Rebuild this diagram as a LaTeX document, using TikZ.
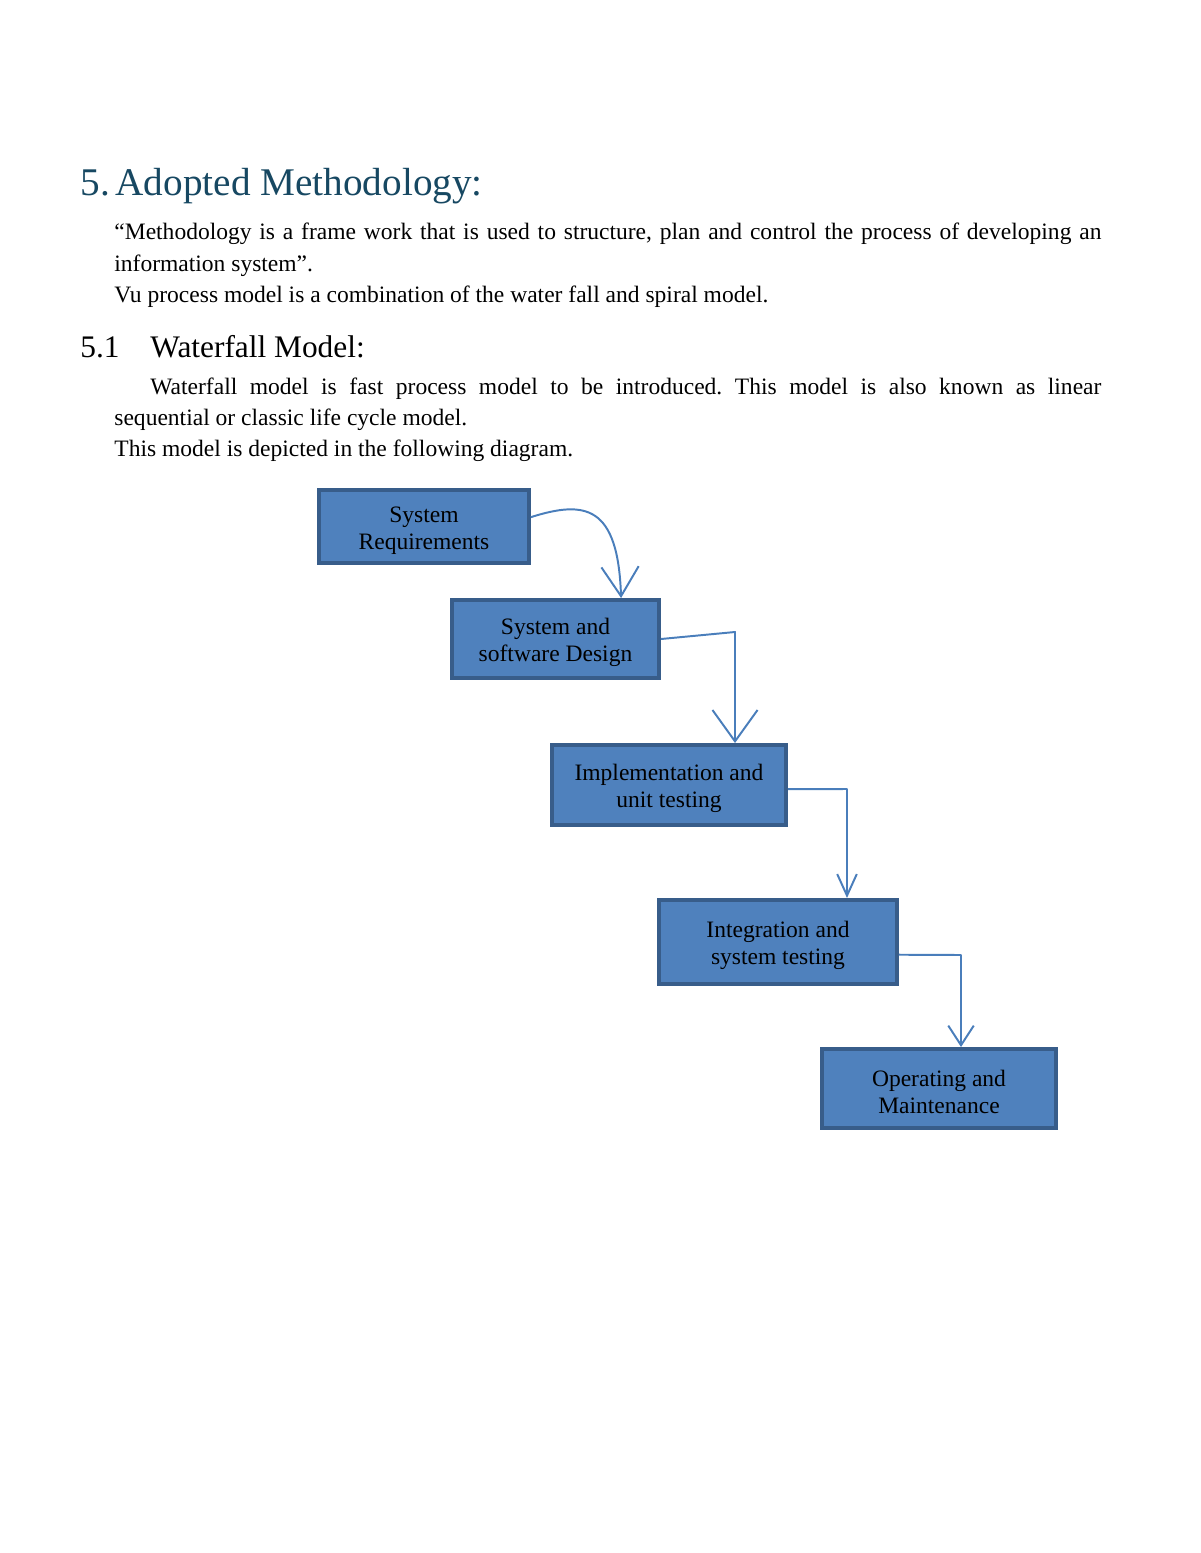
\documentclass[tikz,border=0pt]{standalone}
\usepackage{fontspec}
\setmainfont{Liberation Serif}
\usetikzlibrary{arrows.meta}
\definecolor{headblue}{RGB}{23,72,98}
\definecolor{boxfill}{RGB}{79,129,189}
\definecolor{boxline}{RGB}{56,93,138}
\definecolor{flowblue}{RGB}{74,126,187}
\frenchspacing
\newcommand{\lowtop}{\rule{0pt}{12pt}}
\tikzset{
  stage/.style={draw=boxline, fill=boxfill, line width=2pt, align=center, inner sep=0pt,
    font=\fontsize{12}{13.8}\selectfont},
  flow/.style={draw=flowblue, line width=1pt, line join=round},
  line/.style={anchor=base west, inner sep=0pt, font=\fontsize{12}{15}\selectfont}
}
\begin{document}
\begin{tikzpicture}[x=0.51pt, y=-0.51pt]
        \useasboundingbox (0,0) rectangle (1200,1553);
        \node[line, text=headblue, font=\fontsize{20}{24}\selectfont] (h1) at (80,196) {5.\hspace{0.15em}Adopted Methodology:};
        \node[line] (t1) at (114,240) {\makebox[503.4pt][s]{“Methodology is a frame work that is used to structure, plan and control the process of developing an}};
        \node[line] (t2) at (114,271) {information system”.};
        \node[line] (t3) at (114,302) {Vu process model is a combination of the water fall and spiral model.};
        \node[line, font=\fontsize{16}{19}\selectfont] (h2n) at (80,357) {5.1};
        \node[line, font=\fontsize{16}{19}\selectfont] (h2) at (150,357) {Waterfall Model:};
        \node[line] (t4) at (150,394) {\makebox[485pt][s]{Waterfall model is fast process model to be introduced. This model is also known as linear}};
        \node[line] (t5) at (114,425) {sequential or classic life cycle model.};
        \node[line] (t6) at (114,456) {This model is depicted in the following diagram.};
        \node[stage, minimum width=107pt, minimum height=37.3pt] (b1) at (424,526.5) {\lowtop System\\Requirements};
        \node[stage, minimum width=105.6pt, minimum height=39.8pt] (b2) at (555.5,639) {\lowtop System and\\software Design};
        \node[stage, minimum width=119.4pt, minimum height=40.8pt] (b3) at (669,785) {\lowtop Implementation and\\unit testing};
        \node[stage, minimum width=121.4pt, minimum height=42.9pt] (b4) at (778,942) {\lowtop Integration and\\system testing};
        \node[stage, minimum width=119.4pt, minimum height=40.3pt] (b5) at (939,1088.5) {\lowtop Operating and\\Maintenance};
        \coordinate (k2) at (735,632);
        \coordinate (k3) at (847,789);
        \coordinate (k4) at (961,955);
        \draw[flow, -{Straight Barb[length=15pt, width=19pt]}] (b1.5) .. controls (585,500) and (618,505) .. (b2.32);
        \draw[flow, -{Straight Barb[length=16pt, width=23pt]}] (b2.east) -- (k2) -- (k2 |- b3.north);
        \draw[flow, -{Straight Barb[length=11pt, width=10pt]}] (b3.-2) -- (k3) -- (k3 |- b4.north);
        \draw[flow, -{Straight Barb[length=10pt, width=13pt]}] (b4.-6) -- (k4) -- (k4 |- b5.north);
        \end{tikzpicture}
\end{document}
